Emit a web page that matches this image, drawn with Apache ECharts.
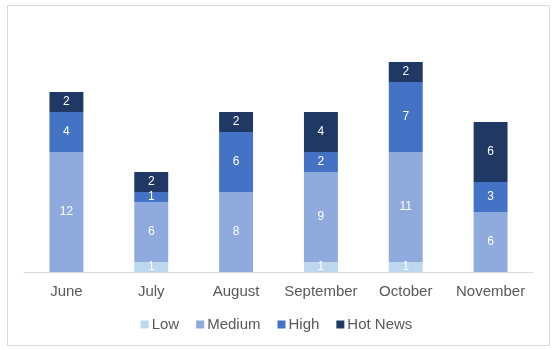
<!DOCTYPE html>
<html>
<head>
<meta charset="utf-8">
<script src="https://cdn.jsdelivr.net/npm/echarts@6/dist/echarts.min.js"></script>
<style>
html,body{margin:0;padding:0;background:#fff;}
#c{width:553px;height:350px;}
</style>
</head>
<body>
<div id="c"></div>
<script>
const categories = ['June','July','August','September','October','November'];
const low = [0, 1, 0, 1, 1, 0];
const medium = [12, 6, 8, 9, 11, 6];
const high = [4, 1, 6, 2, 7, 3];
const hotNews = [2, 2, 2, 4, 2, 6];
const seriesNames = ['Low','Medium','High','Hot News'];
const colors = ['#bdd7ee','#8faadc','#4472c4','#203864'];

const chart = echarts.init(document.getElementById('c'), null, {renderer:'canvas'});
const mk = (name, data, color) => ({
  name, type:'bar', stack:'total', data, barWidth:'40%',
  itemStyle:{color},
  label:{show:true, position:'inside', color:'#fff', fontSize:12, fontFamily:'Liberation Sans, Arial, sans-serif',
    formatter:p => p.value ? p.value : ''}
});
chart.setOption({
  animation:false,
  color:colors,
  graphic:[{type:'rect', shape:{x:7.5,y:5.5,width:542,height:340}, style:{fill:'none', stroke:'#d9d9d9', lineWidth:1}}],
  grid:{left:24, right:20, top:22, bottom:78, containLabel:false},
  legend:{bottom:13, left:'center', itemWidth:8, itemHeight:8, itemGap:17, icon:'rect',
    textStyle:{color:'#595959', fontSize:15, fontFamily:'Liberation Sans, Arial, sans-serif', padding:[0,0,0,-2]},
    data:seriesNames},
  xAxis:{type:'category', data:categories,
    axisLine:{lineStyle:{color:'#d9d9d9'}}, axisTick:{show:false},
    axisLabel:{color:'#595959', fontSize:15, fontFamily:'Liberation Sans, Arial, sans-serif', margin:12, interval:0}},
  yAxis:{type:'value', min:0, max:25, interval:5, show:false, splitLine:{show:false}},
  series:[mk(seriesNames[0], low, colors[0]), mk(seriesNames[1], medium, colors[1]), mk(seriesNames[2], high, colors[2]), mk(seriesNames[3], hotNews, colors[3])]
});
</script>
</body>
</html>
